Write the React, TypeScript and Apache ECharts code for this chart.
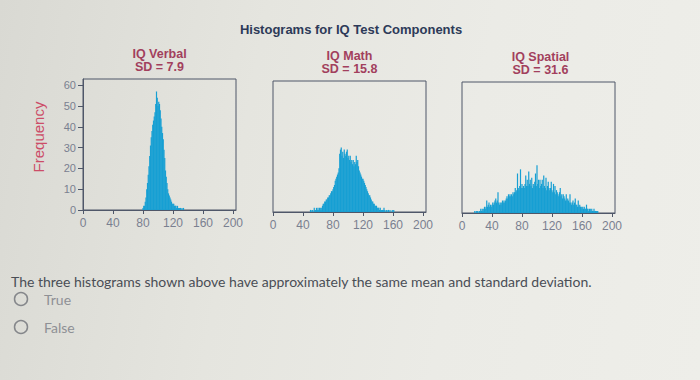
import React, { useEffect, useRef } from "react";
import * as echarts from "echarts";

// Frequency of each integer score, starting at the given score.
const verbalStart = 80;
const verbalCounts = [
  1, 2, 2, 4, 6, 10, 13, 17, 21, 26,
  31, 35, 38, 41, 43, 45, 47, 51, 57, 54,
  50, 52, 51, 48, 44, 40, 37, 34, 29, 25,
  19, 16, 13, 10, 8, 7, 6, 5, 4, 3,
  3, 3, 2, 2, 2, 1, 2, 1, 1, 1,
  1, 0, 1, 0, 1,
];

const mathStart = 50;
const mathCounts = [
  1, 0, 1, 1, 0, 2, 1, 1, 2, 1,
  2, 1, 2, 2, 1, 2, 3, 4, 4, 5,
  5, 6, 6, 7, 7, 8, 8, 9, 10, 10,
  11, 12, 13, 15, 16, 17, 18, 19, 21, 28,
  30, 31, 27, 29, 26, 30, 28, 27, 29, 30,
  26, 27, 25, 27, 24, 25, 23, 25, 22, 24,
  23, 27, 24, 25, 22, 20, 19, 18, 17, 16,
  16, 15, 14, 13, 12, 11, 10, 9, 8, 8,
  7, 6, 5, 5, 4, 4, 3, 3, 3, 2,
  2, 2, 1, 2, 1, 1, 1, 1, 2, 1,
  0, 1, 1, 0, 1, 0, 1, 0, 0, 1,
  0, 1,
];

const spatialStart = 17;
const spatialCounts = [
  1, 0, 1, 1, 1, 0, 1, 1, 2, 1,
  2, 1, 2, 3, 2, 3, 6, 3, 4, 5,
  3, 4, 3, 4, 5, 4, 5, 6, 7, 5,
  6, 10, 5, 4, 5, 4, 5, 6, 5, 6,
  5, 6, 7, 8, 7, 9, 8, 9, 8, 9,
  8, 10, 9, 10, 12, 10, 11, 19, 12, 11,
  13, 21, 12, 14, 12, 13, 12, 14, 18, 13,
  16, 13, 20, 14, 16, 13, 17, 12, 14, 13,
  15, 19, 13, 23, 14, 16, 12, 16, 13, 14,
  16, 12, 18, 13, 12, 17, 11, 13, 15, 12,
  11, 12, 15, 11, 10, 14, 10, 13, 9, 11,
  10, 9, 8, 10, 12, 8, 9, 7, 9, 8,
  7, 6, 9, 6, 7, 6, 5, 9, 5, 4,
  5, 6, 4, 5, 7, 4, 4, 3, 6, 3,
  4, 3, 3, 2, 3, 2, 3, 2, 2, 4,
  2, 2, 1, 2, 2, 1, 2, 1, 1, 2,
  1, 1, 1, 1, 1,
];

const panelNames = ["IQ Verbal", "IQ Math", "IQ Spatial"];
const panelSD = ["7.9", "15.8", "31.6"];
const xTicks = [0, 40, 80, 120, 160, 200];
const yTicks = [0, 10, 20, 30, 40, 50, 60];

const chartTitle = "Histograms for IQ Test Components";
const yName = "Frequency";
const question =
  "The three histograms shown above have approximately the same mean and standard deviation.";
const choices = ["True", "False"];

const AXIS = "#4f5769";
const TICK_TEXT = "#7a8090";
const BAR = "#179fd3";
const SUB = "#a23f5d";
const SANS = "Liberation Sans, Arial, sans-serif";

const panels = [
  { start: verbalStart, counts: verbalCounts },
  { start: mathStart, counts: mathCounts },
  { start: spatialStart, counts: spatialCounts },
];

const gridPos = [
  { left: 83, top: 79 },
  { left: 273, top: 81 },
  { left: 462, top: 82 },
];
const GW = 153;
const GH = 131;

export default function App() {
  const ref = useRef<HTMLDivElement>(null);

  useEffect(() => {
    if (!ref.current) return;
    const chart = echarts.init(ref.current, undefined, { renderer: "svg" });

    const grid = gridPos.map((p) => ({
      left: p.left,
      top: p.top,
      width: GW,
      height: GH,
      show: true,
      borderColor: AXIS,
      borderWidth: 1,
      backgroundColor: "transparent",
      containLabel: false,
      outerBoundsMode: "none",
    }));

    const xAxis = panels.map((_, i) => ({
      type: "value",
      gridIndex: i,
      min: 0,
      max: 204,
      interval: 40,
      axisLine: { show: true, onZero: false, lineStyle: { color: AXIS, width: 1 } },
      axisTick: {
        show: true,
        length: 4,
        customValues: xTicks,
        lineStyle: { color: AXIS, width: 1 },
      },
      axisLabel: {
        customValues: xTicks,
        margin: 7,
        color: TICK_TEXT,
        fontSize: 12,
        fontFamily: SANS,
      },
      splitLine: { show: false },
    }));

    const yAxis = panels.map((_, i) => ({
      type: "value",
      gridIndex: i,
      min: 0,
      max: 63,
      interval: 10,
      show: i === 0,
      axisLine: { show: true, onZero: false, lineStyle: { color: AXIS, width: 1 } },
      axisTick: {
        show: true,
        length: 5,
        customValues: yTicks,
        lineStyle: { color: AXIS, width: 1 },
      },
      axisLabel: {
        customValues: yTicks,
        margin: 7,
        color: TICK_TEXT,
        fontSize: 11,
        fontFamily: SANS,
      },
      splitLine: { show: false },
    }));

    const series = panels.map((p, i) => ({
      type: "bar",
      xAxisIndex: i,
      yAxisIndex: i,
      barWidth: 1.2,
      itemStyle: { color: BAR },
      data: p.counts.map((c, k) => [p.start + k, c]),
    }));

    // Two-line caption above each panel: test name, then its SD.
    const captions = gridPos.flatMap((p, i) => {
      const cx = p.left + GW / 2 + (i === 2 ? 2 : 0);
      const base = {
        fill: SUB,
        fontSize: 12.5,
        fontWeight: "bold",
        fontFamily: SANS,
        textAlign: "center",
        textVerticalAlign: "middle",
      };
      return [
        { type: "text", x: cx, y: p.top - 25, style: { ...base, text: panelNames[i] } },
        { type: "text", x: cx, y: p.top - 12, style: { ...base, text: `SD = ${panelSD[i]}` } },
      ];
    });

    const graphic: any[] = [
      {
        type: "text",
        x: 351,
        y: 29,
        style: {
          text: chartTitle,
          fill: "#2d3a58",
          fontSize: 13,
          fontWeight: "bold",
          fontFamily: SANS,
          textAlign: "center",
          textVerticalAlign: "middle",
        },
      },
      ...captions,
      {
        type: "text",
        x: 38,
        y: 137,
        rotation: Math.PI / 2,
        style: {
          text: yName,
          fill: "#cc4d68",
          fontSize: 15,
          fontFamily: SANS,
          textAlign: "center",
          textVerticalAlign: "middle",
        },
      },
      {
        type: "text",
        x: 11,
        y: 281,
        style: {
          text: question,
          fill: "#4a4e56",
          fontSize: 14,
          fontFamily: "Lato, sans-serif",
          textAlign: "left",
          textVerticalAlign: "middle",
        },
      },
      ...choices.flatMap((label, i) => [
        {
          type: "circle",
          shape: { cx: 21, cy: 299 + i * 28, r: 6.5 },
          style: { fill: "none", stroke: "#85878b", lineWidth: 1.5 },
        },
        {
          type: "text",
          x: 44,
          y: 299 + i * 28,
          style: {
            text: label,
            fill: "#8e9095",
            fontSize: 14,
            fontFamily: "Lato, sans-serif",
            textAlign: "left",
            textVerticalAlign: "middle",
          },
        },
      ]),
    ];

    chart.setOption({
      animation: false,
      backgroundColor: "transparent",
      grid,
      xAxis,
      yAxis,
      series,
      graphic,
    } as any);

    return () => chart.dispose();
  }, []);

  return (
    <div
      ref={ref}
      style={{
        position: "fixed",
        left: 0,
        top: 0,
        width: 700,
        height: 380,
        background:
          "linear-gradient(100deg, #d9d9d3 0%, #e5e5df 35%, #ebebe6 65%, #eeeee9 100%)",
      }}
    />
  );
}
